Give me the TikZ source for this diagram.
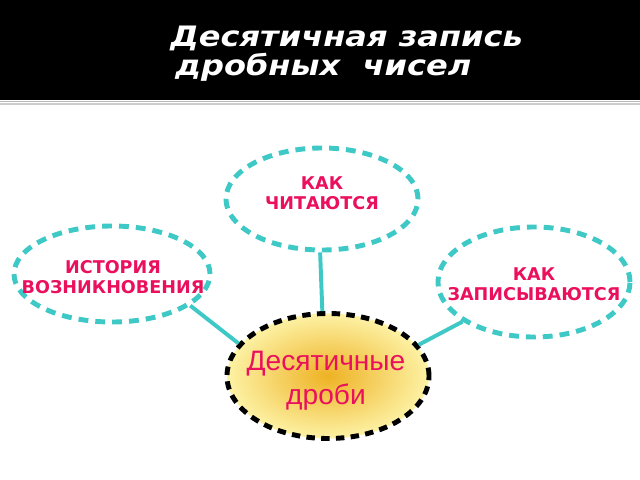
\documentclass[tikz,border=0pt]{standalone}
\usepackage{fontspec}
\setmainfont{DejaVu Sans}
\newfontfamily\arialfont{Liberation Sans}
\newfontfamily\titlefont[FakeStretch=1.14]{DejaVu Sans}
\usetikzlibrary{shapes.geometric}

\definecolor{aqua}{RGB}{62,200,198}
\definecolor{rose}{RGB}{234,16,94}
\definecolor{goldin}{RGB}{238,178,36}
\definecolor{goldout}{RGB}{253,242,165}

\begin{document}
\begin{tikzpicture}[x=0.025cm, y=-0.025cm,
    bubble/.style={ellipse, draw=aqua, line width=3.5pt, dash pattern=on 7pt off 5pt, inner sep=0pt},
    center/.style={ellipse, draw=black, line width=3.5pt, dash pattern=on 6pt off 4.5pt, inner sep=0pt,
        inner color=goldin, outer color=goldout},
    topic/.style={text=rose, font=\bfseries\fontsize{12.5}{14.5}\selectfont, align=center},
    link/.style={draw=aqua, line width=2.8pt}
]
\useasboundingbox (0,0) rectangle (640,480);

% Header
\fill[black] (0,0) rectangle (640,100);
\draw[gray!55, line width=0.9pt] (0,101.5) -- (640,101.5);
\draw[gray!40, line width=0.9pt] (0,104) -- (640,104);
\node[anchor=base west, text=white, align=left, inner sep=0pt,
      font=\titlefont\bfseries\itshape\fontsize{20}{20}\selectfont] (title) at (170,75)
      {Десятичная запись\\\hspace*{3.5pt}дробных\ \ чисел};

% Nodes
\node[bubble, minimum width=4.8cm, minimum height=2.55cm] (read) at (322,199) {};
\node[bubble, minimum width=4.9cm, minimum height=2.4cm] (hist) at (112,274) {};
\node[bubble, minimum width=4.8cm, minimum height=2.75cm] (write) at (534,282) {};
\node[center, minimum width=5.05cm, minimum height=3.125cm] (frac) at (328,376) {};

% Lines
\draw[link] (read.-92) -- (frac.95);
\draw[link] (hist.-22) -- (frac.160);
\draw[link] (write.-151) -- (frac.19);

% Texts
\node[topic] (readT) at (322,193) {КАК\\ЧИТАЮТСЯ};
\node[topic] (histT) at (113,277) {ИСТОРИЯ\\ВОЗНИКНОВЕНИЯ};
\node[topic] (writeT) at (534,284) {КАК\\ЗАПИСЫВАЮТСЯ};
\node[text=rose, align=center, font=\arialfont\fontsize{20}{24}\selectfont] (fracT) at (326,381) {Десятичные\\дроби};

\end{tikzpicture}
\end{document}
